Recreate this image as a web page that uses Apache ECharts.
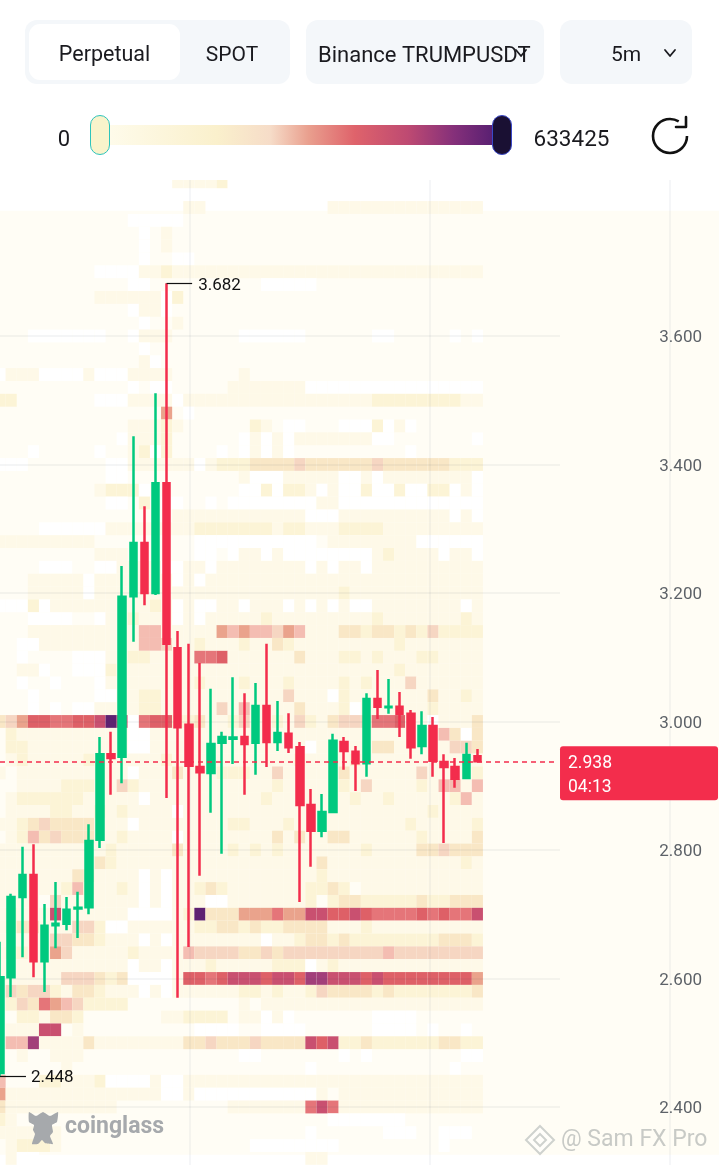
<!DOCTYPE html>
<html><head><meta charset="utf-8">
<style>html,body{margin:0;padding:0;background:#fff}#c{width:719px;height:1165px}</style>
<script src="https://cdn.jsdelivr.net/npm/echarts@6/dist/echarts.min.js"></script>
</head><body><div id="c"></div>
<script>
// [open, close, low, high]
const candles = [
[2.453,2.602,2.448,2.657],[2.602,2.727,2.571,2.732],[2.727,2.761,2.633,2.805],[2.761,2.627,2.602,2.809],
[2.627,2.682,2.579,2.716],[2.683,2.685,2.647,2.750],[2.685,2.707,2.675,2.727],[2.709,2.710,2.663,2.735],
[2.711,2.814,2.700,2.840],[2.816,2.949,2.803,2.976],[2.949,2.943,2.886,2.984],[2.945,3.194,2.904,3.242],
[3.195,3.278,3.124,3.444],[3.278,3.200,3.181,3.335],[3.200,3.371,3.197,3.511],[3.371,3.121,2.881,3.682],
[3.114,2.991,2.570,3.141],[2.995,2.931,2.649,3.121],[2.929,2.921,2.760,3.091],[2.920,2.965,2.858,3.051],
[2.967,2.976,2.794,2.984],[2.973,2.975,2.934,3.069],[2.976,2.965,2.886,3.044],[2.967,3.024,2.917,3.060],
[3.024,2.968,2.929,3.121],[2.968,2.982,2.954,3.032],[2.981,2.960,2.951,3.013],[2.960,2.870,2.719,2.968],
[2.870,2.830,2.774,2.895],[2.830,2.859,2.820,2.887],[2.859,2.970,2.859,2.981],[2.968,2.954,2.925,2.976],
[2.953,2.935,2.892,2.962],[2.935,3.035,2.914,3.044],[3.035,3.023,3.004,3.080],[3.022,3.023,3.012,3.066],
[3.023,3.012,2.976,3.046],[3.012,2.960,2.942,3.018],[2.962,2.993,2.949,3.016],[2.993,2.939,2.914,3.007],
[2.937,2.929,2.811,2.949],[2.929,2.911,2.897,2.943],[2.912,2.948,2.912,2.967],[2.946,2.938,2.938,2.957]
];
const yTicks = [2.4,2.6,2.8,3.0,3.2,3.4,3.6];
const xGridAt = [17.108,38.73,60.35];
const lastPrice = 2.938, countdown = '04:13';
const highPrice = 3.682, lowPrice = 2.448, sliderMin = '0', sliderMax = '633425';
const heatTop = 3.84, heatStep = 0.02;
const heatPalette = {'.':'#ffffff','1':'#FEF9E8','2':'#FCF4D6','3':'#F9E7C6','4':'#F6D6C2','5':'#F4BDB2','6':'#EAA38C','7':'#E57579','8':'#DE6067','9':'#C95070','a':'#A23F7A','b':'#5E2171'};
// one string per price row (top to bottom), one char per candle column; 0 = no cell
const heatRows = [
"........... .....11112. ........... ...........",
"",
"00000000000 00000011000 00000000111 11111111111",
"00000000000 0.....00000",
"00000000000 00.01000000",
"00000000000 00.01000000",
"00000000000 00.00..0000",
"000000000.. ..112111111 11111111111 11111111111",
"00000000000 0..00000000 00..... 00000",
"00000000011 1111.200000",
"00000000000 0.11.000000",
"00000000000 00.00100000",
"000.......0 0.111000000 ......00000 0..00000.0.",
"00000000000 00.00000000",
"00000000000 001.0000000",
".111....1.. .1111000000 10000000000",
"00000000000 0.0..000001 111111..... ...........",
"220000000.. .1111.11111 11111111111 12222222211",
"00000000000 00006 0.0000",
"00000000000 01112100000 0210..000.. .2.1.000000",
"00000000000 .1112000000 .1.1.111111 1..0000000.",
"000.00000.0 012.20000.0 .1.1.000000 0000.000000",
"...0000000. .111111.122 23333433333 34333333222",
"0000000000. .0000000000 1...11111.. 1.11111111.",
"00000000012 22.00000000 ..2.221.1.. 2..2..22.1.",
"0000000000. .020..00.0. .......11.. ...........",
"00000000000 00000111111 111111...11 11111111.1.",
"0000......1 11111112222 22212211122 22111111111",
"11111111100 0000000.... .......0111 11111......",
"00000000011 1000000..0. 11.1....... .121111.11.",
"0000...00.. 1111..11.11 111111.1.11 .1111111111",
"00011111.11 11111.1.111 11111111111 11111111111",
"00011111.11 11111111111 11111111121 11111111111",
"...2.111111 11121.1..11 .111.1.1.1. .11111111.1",
"000....00.1 12111.1.111 11211111111 12111111121",
"00011111111 11551111165 65546511133 23323242222",
"00..1111111 11554112111 21132111111 11121111111",
"00.0000...1 12211117781 11111311122 12111221111",
"0011.00...2 11111111111 11111111111 11121111111",
"00.00.000.1 11111112111 21112111121 21114111111",
"000.00000.. 11221111111 11114111.21 11111131121",
"000.0.0..11 11221111141 51111311 12. 11111121111",
"3468877889b 9.788223112 41121421344 477811.1113",
"02111111111 1..11111111 11111111111 111111153.3",
"02211111111 1..11111111 111111.1111 13311111443",
"01211111211 11112111111 11111211112 11111111111",
"10111111111 1.111311122 21141111131 11111411112",
"00111122211 42111111111 11121111121 41111215515",
"01222222111 11.11111111 11211111112 11211111251",
"01111221121 21111.11111 11111111111 11111121111",
"11234333311 1.111111112 21112111111 11112111112",
"01253433311 21111.11111 11131311331 11111211113",
"11111111112 11111311112 12121111111 21111334333",
"11111111132 11111111111 11111113111 11111111121",
"11111113311 11.1.111111 11111112111 11111111111",
"11111125211 21.1.112321 11111122320 11111111111",
"11110411111 11.1.111..1 11111120233 22222322333",
"12111911111 1....12b333 66676699889 87777878779",
"1233111442. .1111112233 23223333111 21111111111",
"11111443321 11.1.111111 11.11233232 22222223332",
"12211641111 12111154444 33434444444 44544444444",
"11111111111 1.11.111211 111222.1211 11111111111",
"11111144432 3....188789 998998aa999 89888888886",
"14344213321 11.1.111111 22121124333 32322222223",
"12437654222 20000000000 10111111111 11111111111",
"00221332000 00001122220 11.1.000000 0....000000",
"01119901000 0000000.... 00....00000 0....0.00.0",
"155a1111311 11111133433 34333398922 32222223322",
"00100111000 00000000000 ..0000000.0 .00000000..",
"00000010000 00000000000 000000.0000 00000000.00",
"5000221112. ...1..11111 11111111111 11111111111",
"61111111111 1111..1.... .......1011 11111111111",
"31111111111 00000000001 11111179711 11111111111",
"21000000000 00000000000 00000000... ....0000000",
"11111100000 00000000000 000000.0000 00...00...0",
"01222100000 00000000000 0........00 0000000.000",
"01..0000000 00000000000 00000011000"
];

const heatCells = [];
heatRows.forEach((r, ri) => {
  r.replace(/ /g,'').split('').forEach((ch, ci) => {
    if (ch !== '0') heatCells.push([ci, heatTop - ri*heatStep, Object.keys(heatPalette).indexOf(ch)]);
  });
});
const palArr = Object.values(heatPalette);
const candleData = candles.map((c,i)=>[i,c[0],c[1],c[2],c[3]]);
const FONT = 'Roboto';
const UP = '#00C97F', DOWN = '#F32D4C';
const xLeft = -0.009, xRight = 50.44;

const chart = echarts.init(document.getElementById('c'), null, {renderer:'canvas', width:719, height:1165});

function panel(x,y,w,h,r,fill){return {type:'rect',z:100,silent:true,shape:{x,y,width:w,height:h,r},style:{fill}};}
function label(t,x,y,size,color,align,weight){return {type:'text',z:101,silent:true,style:{text:t,x,y:y+2,fill:color,font:(weight||'normal')+' '+size+'px '+FONT,textAlign:align||'left',textVerticalAlign:'middle'}};}
function poly(points,color,w){return {type:'polyline',z:101,silent:true,shape:{points},style:{stroke:color,lineWidth:w,fill:null,lineCap:'round',lineJoin:'round'}};}

const graphic = [
  panel(25,20,265,64,12,'#F4F7FA'), panel(29,24,151,56,11,'#ffffff'),
  panel(306,20,238,64,12,'#F4F7FA'), panel(560,20,132,64,12,'#F4F7FA'),
  label('Perpetual',104.5,54,21.5,'#1a1a1f','center'), label('SPOT',232,54,21,'#1a1a1f','center'),
  label('Binance TRUMPUSDT',318,54,22,'#1a1a1f','left'),
  poly([[516,50],[521,56],[526,50]],'#1a1a1f',1.8),
  label('5m',626,54,21,'#1a1a1f','center'),
  poly([[665,50],[670,56],[675,50]],'#1a1a1f',1.8),
  label(sliderMin,64,138,22,'#1a1a1f','center'),
  {type:'rect',z:100,silent:true,shape:{x:110,y:125,width:382,height:20},style:{fill:new echarts.graphic.LinearGradient(0,0,1,0,[
    {offset:0,color:'#FEFBEA'},{offset:.28,color:'#FAF0CC'},{offset:.42,color:'#F6DCC8'},{offset:.52,color:'#E99F8E'},
    {offset:.64,color:'#DF636B'},{offset:.78,color:'#BE4A72'},{offset:.9,color:'#85307A'},{offset:1,color:'#5A2072'}])}},
  {type:'rect',z:101,silent:true,shape:{x:90.5,y:115.5,width:19,height:39,r:9.5},style:{fill:'#F9F3CB',stroke:'#2EC4BC',lineWidth:1}},
  {type:'rect',z:101,silent:true,shape:{x:492.5,y:115.5,width:19,height:39,r:9.5},style:{fill:'#1A1033',stroke:'#3A48C8',lineWidth:1}},
  label(sliderMax,571.5,138,22.5,'#1a1a1f','center'),
  {type:'arc',z:101,silent:true,shape:{cx:670,cy:136,r:17,startAngle:0,endAngle:5.25,clockwise:true},style:{stroke:'#111',lineWidth:2.6,fill:null}},
  poly([[686,117],[686,127],[676,127]],'#111',2.6),
  // coinglass watermark
  {type:'polygon',z:50,silent:true,shape:{smooth:0.15,points:[[29,1112],[36,1116],[43,1112],[50,1116],[58,1112],[57,1122],[52,1125],[53,1132],[50,1136],[53,1144],[45,1143],[42,1140],[38,1144],[32,1144],[35,1134],[33,1130],[34,1125],[29,1122]]},style:{fill:'#A6A9AC'}},
  label('coinglass',65,1125,23,'#A6A9AC','left','bold'),
  // user watermark
  {type:'polygon',z:50,silent:true,shape:{points:[[540,1126],[554,1140],[540,1154],[526,1140]]},style:{fill:'rgba(255,255,255,.5)',stroke:'#CFD2CE',lineWidth:2}},
  {type:'polygon',z:50,silent:true,shape:{points:[[540,1134],[546,1140],[540,1146],[534,1140]]},style:{fill:'none',stroke:'#CFD2CE',lineWidth:2}},
  label('@ Sam FX Pro',561,1138,23,'#C8CAC6','left')
];

const option = {
  animation:false,
  backgroundColor:'#ffffff',
  grid:{left:0,top:180,width:719,height:985,containLabel:false},
  xAxis:{type:'value',min:xLeft,max:64.766,z:3,
    axisLine:{show:false},axisLabel:{show:false},
    axisTick:{show:false,customValues:xGridAt},
    splitLine:{show:true,lineStyle:{color:'rgba(70,90,110,0.07)',width:1.5}}},
  yAxis:{type:'value',position:'right',min:2.3097,max:3.8428,z:6,
    axisLine:{show:false},
    axisTick:{show:false,customValues:yTicks},
    splitLine:{show:false},
    axisLabel:{inside:true,customValues:yTicks,margin:17,color:'#5D6268',fontSize:17,fontFamily:FONT,
      formatter:v=>'{t|'+v.toFixed(3)+'}',
      rich:{t:{color:'#5D6268',fontSize:17,fontFamily:FONT,padding:[4,0,0,0]}}}},
  series:[
    {name:'bg',type:'line',data:[],silent:true,z:1,symbol:'none',
      markArea:{silent:true,z:1,itemStyle:{color:'#FFFDF5'},data:[[{yAxis:3.795},{yAxis:2.3255}]]}},
    {name:'heat',type:'custom',z:2,clip:true,silent:true,data:heatCells,encode:{x:0,y:1},
      renderItem(params,api){
        const a=api.coord([api.value(0)-0.5,api.value(1)+heatStep/2]);
        const b=api.coord([api.value(0)+0.5,api.value(1)-heatStep/2]);
        return {type:'rect',shape:{x:a[0],y:a[1],width:b[0]-a[0],height:b[1]-a[1]},style:{fill:palArr[api.value(2)]}};
      }},
    {name:'grid',type:'line',data:[],silent:true,z:3,symbol:'none',
      markLine:{silent:true,z:3,symbol:'none',label:{show:false},
        lineStyle:{color:'rgba(70,80,90,0.075)',type:'solid',width:1.5},
        data:yTicks.map(v=>[{xAxis:xLeft,yAxis:v},{xAxis:xRight,yAxis:v}])}},
    {name:'kline',type:'candlestick',z:4,barWidth:7,clip:true,silent:true,
      itemStyle:{color:UP,color0:DOWN,borderColor:UP,borderColor0:DOWN,borderWidth:2.5},
      data:candleData,
      markLine:{silent:true,z:5,symbol:'none',animation:false,
        data:[
          [{xAxis:xLeft,yAxis:lastPrice,lineStyle:{color:DOWN,type:[5,4],width:1.6},label:{show:false}},{xAxis:50.08,yAxis:lastPrice}],
          [{xAxis:15,yAxis:highPrice,lineStyle:{color:'#111',type:'solid',width:1.2},
            label:{show:true,position:'end',distance:6,offset:[0,2],formatter:highPrice.toFixed(3),color:'#111',fontSize:17,fontFamily:FONT}},{xAxis:17.3,yAxis:highPrice}],
          [{xAxis:xLeft,yAxis:lowPrice,lineStyle:{color:'#111',type:'solid',width:1.2},
            label:{show:true,position:'end',distance:5,offset:[0,2],formatter:lowPrice.toFixed(3),color:'#111',fontSize:17,fontFamily:FONT}},{xAxis:2.33,yAxis:lowPrice}]
        ]},
      markPoint:{silent:true,z:8,animation:false,
        data:[{coord:[57.56,lastPrice],symbol:'path://M3 0H155A3 3 0 0 1 158 3V51A3 3 0 0 1 155 54H3A3 3 0 0 1 0 51V3A3 3 0 0 1 3 0Z',symbolSize:[158,54],symbolOffset:[0,12],
          itemStyle:{color:DOWN},
          label:{show:true,position:'inside',align:'left',offset:[-71,2],
            formatter:lastPrice.toFixed(3)+'\n'+countdown,color:'#fff',fontSize:17.5,lineHeight:24,fontFamily:FONT}}]}}
  ],
  graphic:{elements:graphic}
};
chart.setOption(option);
</script></body></html>
